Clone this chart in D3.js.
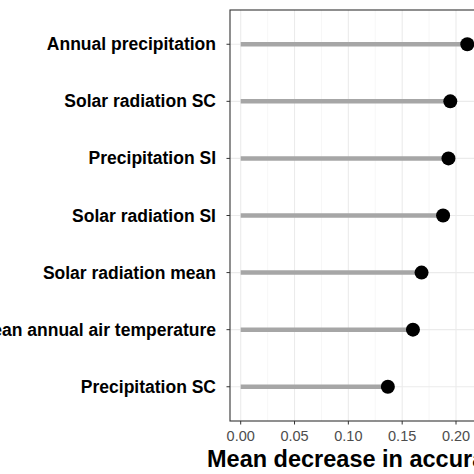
<!DOCTYPE html><html><head><script src="https://cdn.jsdelivr.net/npm/d3@7"></script>
<style>body{margin:0;background:#fff}</style></head><body><svg id="c" width="474" height="474"></svg>
<script>
const categories=["Annual precipitation","Solar radiation SC","Precipitation SI","Solar radiation SI","Solar radiation mean","Mean annual air temperature","Precipitation SC"];
const values=[0.2105,0.1947,0.193,0.188,0.168,0.160,0.1367];
const xticks=[0,0.05,0.10,0.15,0.20,0.25];
const svg=d3.select("#c");
const L=230,T=10,B=421,R=520;
const x=d3.scaleLinear().domain([0,0.2]).range([240.7,456]);
const y=d3.scalePoint().domain(categories).range([T,B]).padding(0.6);
const g=svg.append("g");
const minor=d3.range(0.025,0.3,0.05);
g.selectAll(".mi").data(minor).join("line").attr("x1",d=>x(d)).attr("x2",d=>x(d)).attr("y1",T).attr("y2",B).attr("stroke","#f2f2f2").attr("stroke-width",0.6);
g.selectAll(".ma").data(xticks).join("line").attr("x1",d=>x(d)).attr("x2",d=>x(d)).attr("y1",T).attr("y2",B).attr("stroke","#ebebeb").attr("stroke-width",1.1);
g.selectAll(".hy").data(categories).join("line").attr("x1",L).attr("x2",R).attr("y1",d=>y(d)).attr("y2",d=>y(d)).attr("stroke","#ebebeb").attr("stroke-width",1.1);
g.append("rect").attr("x",L).attr("y",T).attr("width",R-L).attr("height",B-T).attr("fill","none").attr("stroke","#333").attr("stroke-width",1.1);
g.selectAll(".st").data(categories).join("line").attr("x1",x(0)).attr("x2",(d,i)=>x(values[i])).attr("y1",d=>y(d)).attr("y2",d=>y(d)).attr("stroke","#a6a6a6").attr("stroke-width",4.5);
g.selectAll(".dt").data(categories).join("circle").attr("cx",(d,i)=>x(values[i])).attr("cy",d=>y(d)).attr("r",7).attr("fill","#000");
g.selectAll(".yt").data(categories).join("line").attr("x1",L-3.5).attr("x2",L).attr("y1",d=>y(d)).attr("y2",d=>y(d)).attr("stroke","#333");
g.selectAll(".yl").data(categories).join("text").attr("x",L-14).attr("y",d=>y(d)+6).attr("text-anchor","end").attr("font-family","Liberation Sans, Arial").attr("font-weight","bold").attr("font-size",17.5).attr("fill","#000").text(d=>d);
g.selectAll(".xt").data(xticks).join("line").attr("x1",d=>x(d)).attr("x2",d=>x(d)).attr("y1",B).attr("y2",B+3.5).attr("stroke","#333");
g.selectAll(".xl").data(xticks).join("text").attr("x",d=>x(d)).attr("y",B+20).attr("text-anchor","middle").attr("font-family","Liberation Sans, Arial").attr("font-size",14.5).attr("fill","#4d4d4d").text(d=>d.toFixed(2));
g.append("text").attr("x",207).attr("y",467).attr("font-family","Liberation Sans, Arial").attr("font-weight","bold").attr("font-size",23.5).attr("fill","#000").text("Mean decrease in accuracy");
</script></body></html>
